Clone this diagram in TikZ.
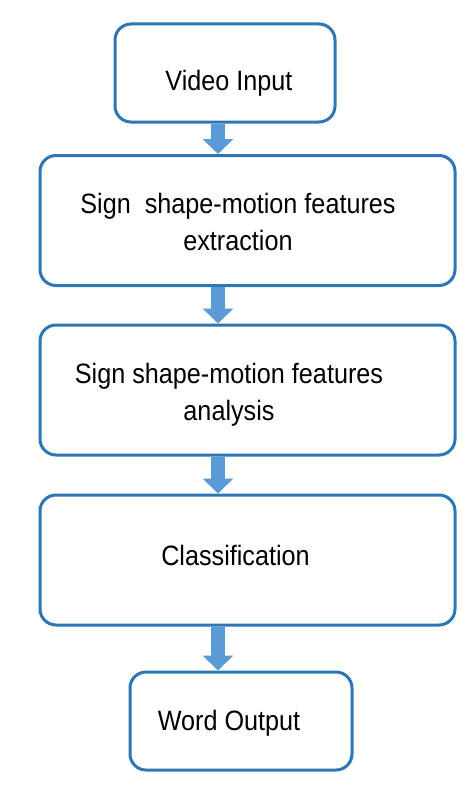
\documentclass[tikz,border=0pt]{standalone}
\usepackage{fontspec}
\setmainfont{Liberation Sans}[FakeStretch=0.9]
\usetikzlibrary{arrows.meta}
\definecolor{boxblue}{HTML}{2E75B6}
\definecolor{arrowblue}{HTML}{5B9BD5}
\tikzset{box/.style = {draw=boxblue, line width=3pt, rounded corners=16pt, fill=white},
         label/.style = {anchor=base, align=center, font=\fontsize{28}{37}\selectfont},
         flow/.style = {draw=arrowblue, line width=14pt,
                        -{Triangle[width=30pt,length=15pt,fill=arrowblue]}}}

\begin{document}
\begin{tikzpicture}[x=1pt,y=-1pt]
			\useasboundingbox (0,0) rectangle (474,792);
			\node [box, minimum width=220pt, minimum height=98pt] (1) at (225, 73) {};
			\node [box, minimum width=415pt, minimum height=130pt] (2) at (247.5, 220.5) {};
			\node [box, minimum width=415pt, minimum height=130pt] (3) at (247.5, 390) {};
			\node [box, minimum width=415pt, minimum height=130pt] (4) at (247.5, 560) {};
			\node [box, minimum width=222pt, minimum height=98pt] (5) at (241, 721) {};
			\node [label] (t1) at (229, 90) {Video Input};
			\node [label] (t2) at (238, 250) {Sign\ \ shape-motion features\\extraction};
			\node [label] (t3) at (229, 420) {Sign shape-motion features\\analysis};
			\node [label] (t4) at (235.5, 565) {Classification};
			\node [label] (t5) at (229, 730) {Word Output};
			\coordinate (a) at (218, 0);
			\draw [flow] (1.south -| a) to (2.north -| a);
			\draw [flow] (2.south -| a) to (3.north -| a);
			\draw [flow] (3.south -| a) to (4.north -| a);
			\draw [flow] (4.south -| a) to (5.north -| a);
		\end{tikzpicture}
\end{document}
